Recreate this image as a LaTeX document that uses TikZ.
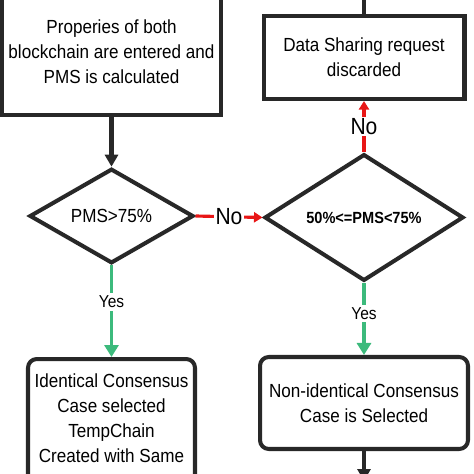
\documentclass[tikz,border=0pt]{standalone}
\usepackage{fontspec}
\setmainfont{Liberation Sans}[FakeStretch=0.9]
\usepackage{tikz}
\usetikzlibrary{positioning, arrows.meta, shapes.geometric}
\definecolor{edgegray}{RGB}{40,40,40}
\definecolor{nored}{RGB}{232,22,22}
\definecolor{yesgreen}{RGB}{60,186,124}

\begin{document}
\begin{tikzpicture}[
        x=0.02cm, y=-0.02cm,
        font=\fontsize{10.8}{14.2}\selectfont,
        stepbox/.style={draw=edgegray, line width=2.3pt, fill=white, align=center, inner sep=0pt},
        decision/.style={diamond, draw=edgegray, line width=2.3pt, fill=white, align=center, inner sep=0pt},
        flow/.style={draw=edgegray, line width=2.3pt, -{Triangle[length=0.24cm, width=0.26cm]}},
        noflow/.style={draw=nored, line width=1.8pt, -{Triangle[length=0.17cm, width=0.2cm]}},
        yesflow/.style={draw=yesgreen, line width=1.8pt, -{Triangle[length=0.24cm, width=0.28cm]}},
        nolbl/.style={fill=white, inner sep=1pt, font=\fontsize{13.3}{15}\selectfont},
        yeslbl/.style={fill=white, inner sep=1.5pt, font=\fontsize{9.8}{11}\selectfont},
    ]
    \useasboundingbox (0,0) rectangle (474,474);
    \clip (0,0) rectangle (474,474);

    % ---- Boxes ----
    \node[stepbox, minimum width=4.38cm, minimum height=2.52cm] (props) at (111.5,52) {Properies of both\\blockchain are entered and\\PMS is calculated};
    \node[stepbox, minimum width=4.02cm, minimum height=1.66cm] (discard) at (364,57.5) {Data Sharing request\\discarded};

    % ---- Decisions ----
    \node[decision, minimum width=3.28cm, minimum height=1.76cm] (pms75) at (111.5,216) {PMS>75\%};
    \node[decision, minimum width=3.98cm, minimum height=2.02cm, font=\bfseries\fontsize{9.2}{11}\selectfont] (pms50) at (364,217.5) {50\%<=PMS<75\%};

    % ---- Consensus cases ----
    \node[stepbox, rounded corners=5pt, anchor=north, minimum width=3.34cm, inner ysep=0.3cm] (ident) at (111.5,357) {Identical Consensus\\Case selected\\TempChain\\Created with Same\\ \strut};
    \node[stepbox, rounded corners=5pt, minimum width=4.16cm, minimum height=1.84cm] (nonident) at (364,403) {Non-identical Consensus\\Case is Selected};

    % ---- Connectors ----
    \coordinate (prev) at (364,-20);
    \coordinate (next) at (364,481);
    \draw[edgegray, line width=2.3pt] (discard.north) -- (prev);
    \draw[flow] (props.south) -- (pms75.north);
    \draw[noflow] (pms75.east) -- node[nolbl] {No} (pms50.west);
    \draw[noflow] (pms50.north) -- node[nolbl] {No} (discard.south);
    \draw[yesflow] (pms75.south) -- node[yeslbl, pos=0.4] {Yes} (ident.north);
    \draw[yesflow] (pms50.south) -- node[yeslbl, pos=0.42] {Yes} (nonident.north);
    \draw[flow] (nonident.south) -- (next);
\end{tikzpicture}
\end{document}
